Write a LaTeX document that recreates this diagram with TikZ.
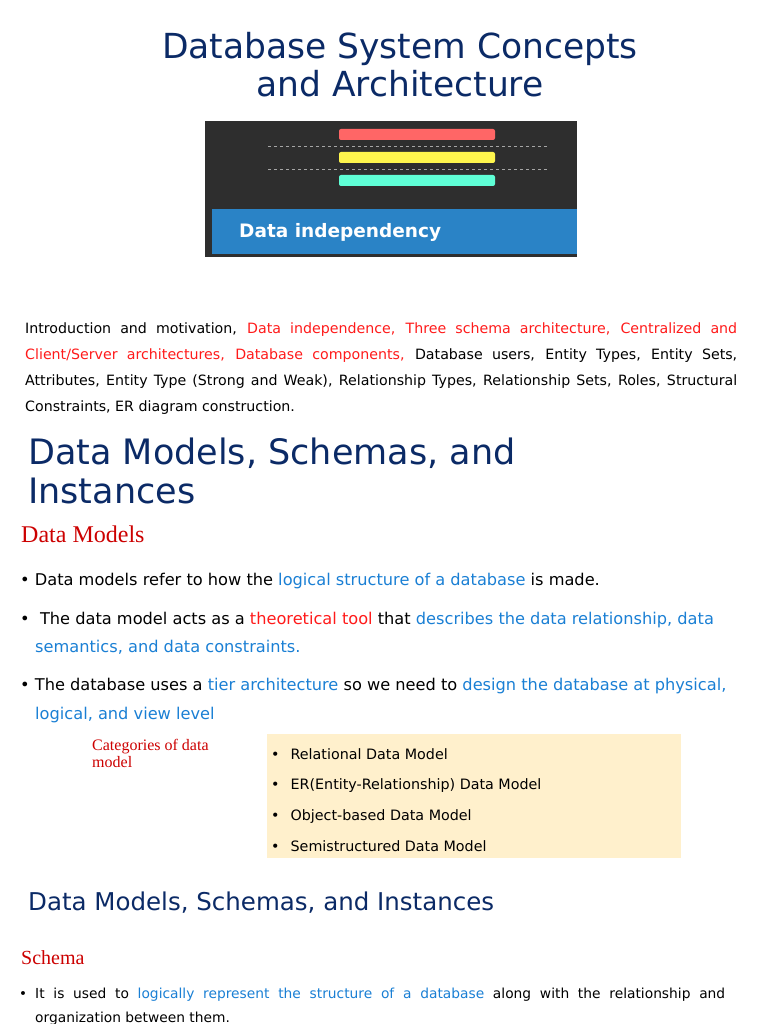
\documentclass[tikz,border=0pt]{standalone}
\usepackage{fontspec}
\setmainfont{DejaVu Sans}
\newfontfamily\serifred{Liberation Serif}
\definecolor{navy}{HTML}{0B2A66}
\definecolor{lblue}{HTML}{1A7FD4}
\definecolor{rred}{HTML}{FF1A1A}
\definecolor{hred}{HTML}{CC0000}
\definecolor{boxy}{HTML}{FFF0CC}
\definecolor{dark}{HTML}{2E2E2E}
\definecolor{bband}{HTML}{2A83C6}
\definecolor{cyanbar}{HTML}{5FFFD6}
\hyphenpenalty=10000
\tolerance=10000
\begin{document}
\begin{tikzpicture}[x=1pt,y=-1pt,
  txt/.style={anchor=north west,inner sep=0pt,align=left},
  bul/.style={anchor=base west,inner sep=0pt,font=\fontsize{16.2}{28}\selectfont}]
\useasboundingbox (0,0) rectangle (768,1024);
\node (t) at (400,65) [align=center,text=navy,font=\fontsize{34.5}{38}\selectfont] {Database System Concepts\\and Architecture};
% image
\fill[dark] (205,121) rectangle (577,257);
\fill[bband] (212,209) rectangle (577,254);
\node (di) at (239,232) [anchor=west,inner sep=0pt,text=white,font=\bfseries\fontsize{18.5}{20}\selectfont] {Data independency};
\draw[gray!70,dashed,line width=0.5pt] (268,146) -- (548,146);
\draw[gray!70,dashed,line width=0.5pt] (268,169) -- (548,169);
\fill[red!60!white,rounded corners=2pt] (339,129) rectangle (495,140);
\fill[yellow!70!white,rounded corners=2pt] (339,152) rectangle (495,163);
\fill[cyanbar,rounded corners=2pt] (339,175) rectangle (495,186);
% paragraph
\node (p) at (25,323) [txt,text width=712,align=justify,font=\fontsize{14.2}{26}\selectfont] {Introduction and motivation, \textcolor{rred}{Data independence, Three schema architecture, Centralized and\linebreak Client/Server architectures, Database components,} Database users, Entity Types, Entity Sets,\linebreak Attributes, Entity Type (Strong and Weak), Relationship Types, Relationship Sets, Roles, Structural\linebreak Constraints, ER diagram construction.};
\node (h1) at (28,438) [txt,text=navy,font=\fontsize{35}{39}\selectfont] {Data Models, Schemas, and\\Instances};
\node (dm) at (21,526) [txt,text=hred,font=\serifred\fontsize{24}{26}\selectfont] {Data Models};
\node (b1) at (20,585) [bul] {•~Data models refer to how the \textcolor{lblue}{logical structure of a database} is made.};
\node (b2) at (20,624) [bul] {•~~The data model acts as a \textcolor{rred}{theoretical tool} that \textcolor{lblue}{describes the data relationship, data}};
\node (b2b) at (35,652) [bul,text=lblue] {semantics, and data constraints.};
\node (b3) at (20,690) [bul] {•~The database uses a \textcolor{lblue}{tier architecture} so we need to \textcolor{lblue}{design the database at physical,}};
\node (b3b) at (35,719) [bul,text=lblue] {logical, and view level};
\node (cat) at (92,739) [txt,text=hred,font=\serifred\fontsize{16}{17}\selectfont] {Categories of data\\model};
\fill[boxy] (267,734) rectangle (681,858);
\foreach \y/\s [count=\i] in {759/Relational Data Model,789/ER(Entity-Relationship) Data Model,820/Object-based Data Model,851/Semistructured Data Model}
  \node (c\i) at (271,\y) [bul,font=\fontsize{14.3}{17}\selectfont] {•\hspace{11pt}\s};
\node (h2) at (28,903) [anchor=west,inner sep=0pt,text=navy,font=\fontsize{24.5}{27}\selectfont] {Data Models, Schemas, and Instances};
\node (sc) at (21,958) [anchor=west,inner sep=0pt,text=hred,font=\serifred\fontsize{20}{22}\selectfont] {Schema};
\node (sb) at (19,998) [anchor=base west,inner sep=0pt,font=\fontsize{13.5}{24}\selectfont] {•};
\node (s1) at (35,998) [anchor=base west,inner sep=0pt,text width=690,align=justify,font=\fontsize{13.8}{24}\selectfont] {It is used to \textcolor{lblue}{logically represent the structure of a database} along with the relationship and\linebreak organization between them.};
\end{tikzpicture}
\end{document}
